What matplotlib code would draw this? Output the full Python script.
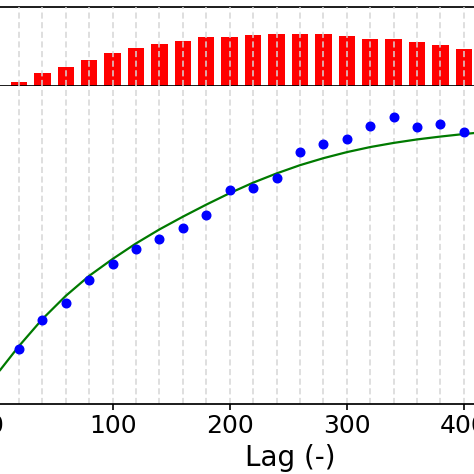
import matplotlib
matplotlib.use("Agg")
import matplotlib.pyplot as plt

# Lag bins (-)
lags = [20, 40, 60, 80, 100, 120, 140, 160, 180, 200,
        220, 240, 260, 280, 300, 320, 340, 360, 380, 400]
# Number of pairs per lag bin (top panel)
pair_counts = [40, 130, 190, 260, 330, 380, 420, 450, 490, 490,
               510, 520, 520, 520, 500, 470, 470, 440, 410, 370]
# Experimental semivariance
semivar = [0.173, 0.264, 0.318, 0.390, 0.440, 0.487, 0.519, 0.553, 0.594, 0.673,
           0.679, 0.711, 0.792, 0.818, 0.833, 0.874, 0.903, 0.871, 0.881, 0.855]
# Fitted model curve
model_lag = [0, 4, 20, 40, 60, 80, 100, 120, 140, 160, 180, 200,
             220, 240, 260, 280, 300, 320, 340, 360, 380, 400, 420]
model_val = [0.091, 0.107, 0.182, 0.267, 0.340, 0.403, 0.456, 0.505, 0.549, 0.589,
             0.627, 0.663, 0.696, 0.725, 0.751, 0.773, 0.792, 0.808, 0.821, 0.832,
             0.841, 0.849, 0.856]
xticks = [0, 100, 200, 300, 400, 500]

W = 474.0
fig = plt.figure(figsize=(4.74, 4.74), dpi=100)
left = -4.5 / W
width = 589.0 / W
ax_top = fig.add_axes([left, (W - 86) / W, width, 79 / W])
ax = fig.add_axes([left, (W - 404) / W, width, 318 / W], sharex=ax_top)

grid_kw = dict(color="#d6d6d6", lw=1.1, linestyle=(0, (4, 2.3)))

ax_top.bar(lags, pair_counts, width=14, color="#ff0000", zorder=2)
for lg in lags:
    ax_top.axvline(lg, zorder=3, **grid_kw)
    ax.axvline(lg, zorder=1, **grid_kw)
ax_top.set_ylim(0, 790)
ax_top.set_yticks([])

ax.plot(model_lag, model_val, color="#007a00", lw=1.6, zorder=3)
ax.plot(lags, semivar, "o", color="#0000ff", ms=6.2, zorder=4, clip_on=False)
ax.set_ylim(0, 1.0)
ax.set_yticks([])
ax.set_xlim(0, 503)
ax.set_xticks(xticks)
ax.tick_params(axis="x", labelsize=18, width=1.2, length=4)
ax_top.tick_params(axis="x", labelbottom=False, width=1.2, length=4)
ax.set_xlabel("Lag (-)", fontsize=20)

for a in (ax, ax_top):
    for s in a.spines.values():
        s.set_linewidth(1.25)
ax.spines["top"].set_visible(False)

fig.savefig("out.png", dpi=100)
